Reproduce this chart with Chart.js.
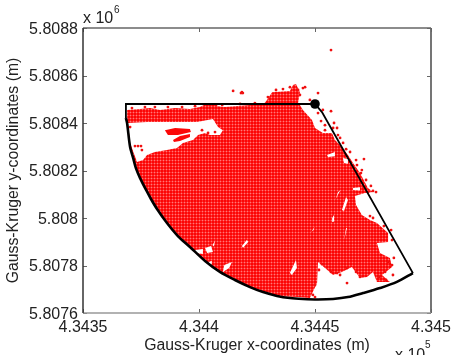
<!DOCTYPE html>
<html><head><meta charset="utf-8">
<style>html,body{margin:0;padding:0;background:#fff;overflow:hidden}canvas{display:block}</style>
<script src="https://cdn.jsdelivr.net/npm/chart.js@4"></script>
</head><body>
<canvas id="c" width="474" height="355"></canvas>
<script>
// All coordinates are metres relative to these origins.
const xOrigin = 434000, yOrigin = 5807000;
const xTickLabels = ['4.3435','4.344','4.3445','4.345'];
const yTickLabels = ['5.8076','5.8078','5.808','5.8082','5.8084','5.8086','5.8088'];

const arcX = [368.5,369.0,370.3,371.6,372.8,374.6,377.2,379.3,381.9,386.2,390.9,396.1,402.6,409.0,415.5,422.0,427.6,433.6,439.2,444.8,451.3,457.8,464.2,470.7,478.0,485.3,492.2];
const arcY = [1421,1400,1299,1253,1210,1168,1118,1080,1038,979,924,878,819,773,739,709,688,672,663,659,657,659,667,684,705,731,768];
const edgeX = [492.2,453.0,450.0,368.5,368.5];
const edgeY = [768,1446,1480,1480,1421];

const coverageX = [369.0,374.6,378.9,383.2,389.7,396.1,400.4,403.9,406.9,408.2,411.2,415.5,422.0,427.6,429.3,431.5,439.2,440.5,441.8,443.5,442.7,443.5,444.8,448.7,450.0,453.4,457.3,458.6,460.8,464.2,466.4,469.4,472.8,475.0,471.5,467.2,467.7,470.2,473.7,476.7,481.5,481.5,476.7,478.0,482.3,483.2,478.9,482.3,476.7,475.0,472.4,469.4,465.9,461.6,457.8,454.3,451.3,450.9,447.8,442.7,433.6,427.6,422.0,415.5,409.0,402.6,396.1,390.9,386.2,381.9,379.3,377.2,374.6,372.8,371.6,370.3,369.0];
const coverageY = [1455,1459,1463,1455,1463,1459,1467,1484,1484,1471,1467,1471,1476,1476,1497,1530,1535,1560,1564,1530,1484,1476,1455,1413,1379,1358,1358,1328,1307,1265,1232,1189,1126,1109,1105,1093,1055,1013,992,979,937,899,895,853,832,794,760,731,731,773,752,747,794,773,760,789,815,726,663,667,672,688,709,739,773,819,878,924,979,1038,1080,1118,1168,1210,1253,1299,1400];

const holesX = [
  [369.4,377.6,388.8,399.1,406.0,408.2,410.3,409.0,404.7,402.6,399.6,397.4,393.1,390.5,386.2,381.0,377.6,375.9,373.3,370.3],
  [398.3,401.7,401.7,398.7],[402.6,405.2,406.0,403.5],[404.2,405.5,405.5,404.5],[410.9,414.2,413.0,410.3],
  [418.5,420.6,421.3,419.0],[405.8,408.0,407.0,406.3],[461.6,463.4,464.2,462.5],[457.4,458.2,458.2,457.4],
  [458.6,461.0,460.0,458.4],[462.5,463.8,463.4,462.5],[448.7,449.8,449.4,448.3],[439.2,441.8,442.2,440.0],
  [455.2,458.6,458.6,455.6],[466.4,469.4,469.4,466.4],[462.0,464.2,464.2,462.5]
];
const holesY = [
  [1400,1404,1404,1404,1417,1383,1370,1349,1349,1358,1349,1328,1316,1295,1286,1278,1265,1244,1236,1316],
  [865,869,848,853],[874,882,857,853],[815,820,805,800],[802,815,790,773],
  [882,907,900,875],[886,920,905,880],[1034,1088,1076,1030],[1000,1013,985,983],
  [1076,1118,1110,1070],[907,958,958,907],[945,962,950,941],[770,823,790,760],
  [1265,1278,1260,1257],[1126,1130,1116,1118],[1253,1248,1228,1232]
];
const islandsX = [[385.3,389.7,396.1,396.5,390.9,386.6],[388.8,391.8,396.1,396.1,391.8,389.2]];
const islandsY = [[1370,1379,1375,1362,1349,1349],[1328,1345,1354,1341,1324,1320]];

const strayX = [414.7,418.5,418.1,418.9,456.9,451.3,444.8,445.7,443.5,456.9,458.2,459.5,471.1,460.8,463.4,468.1,469.8,475.0,452.6,454.3,460.8,463.8,469.4,459.5,483.2,449.1,450.0,370.3,372.4,373.7,375.0,375.4,406.9,403.9,401.3,473.7,475.0,472.8,481.5,453.4,447.8,
  371.1,376.7,381.0,386.6,392.7,398.3,410.0,417.7,424.1,429.7,433.2,436.2,439.2,442.7,451.3,454.3,457.8,459.9,462.1,465.1,467.7,470.2,472.0,474.1,476.3,483.2,482.8,479.7,484.0,483.6,480.6,480.2,477.6,467.7,463.8,456.9,453.0,451.7,450.0];
const strayY = [1535,1530,1526,1526,1707,1526,1547,1551,1518,1450,1400,1379,1248,1337,1290,1223,1189,1114,1408,1391,760,726,752,768,802,676,667,1383,1303,1303,1303,1286,1362,1358,1370,1008,1000,1109,815,1455,1497,
  1463,1467,1467,1467,1467,1471,1476,1480,1484,1509,1539,1543,1551,1539,1442,1370,1379,1349,1316,1278,1244,1202,1160,1135,1109,907,949,966,832,760,739,773,752,773,789,773,806,781,718];

const sensorX = [450.0];
const sensorY = [1480];

const toPoints = (xs, ys) => xs.map((x, i) => ({x: x + xOrigin, y: ys[i] + yOrigin}));

function gridPattern() {
  const p = document.createElement('canvas');
  p.width = 3; p.height = 3;
  const g = p.getContext('2d');
  g.fillStyle = '#fb0606'; g.fillRect(0, 0, 3, 3);
  g.fillStyle = '#ff2a2a'; g.fillRect(0, 1, 3, 1); g.fillRect(1, 0, 1, 3);
  g.fillStyle = '#ff7878'; g.fillRect(1, 1, 1, 1);
  return g.createPattern(p, 'repeat');
}
const areaSet = (xs, ys, color, order) => ({
  data: toPoints(xs, ys), showLine: true, fill: 'shape', backgroundColor: color,
  borderWidth: 0, borderColor: 'rgba(0,0,0,0)', pointRadius: 0, tension: 0, order
});

const datasets = [
  areaSet(coverageX, coverageY, gridPattern(), 6),
  ...holesX.map((xs, i) => areaSet(xs, holesY[i], '#ffffff', 5)),
  ...islandsX.map((xs, i) => areaSet(xs, islandsY[i], '#fb0808', 4)),
  {data: toPoints(strayX, strayY), showLine: false, pointStyle: 'circle', pointRadius: 1.4, pointBorderWidth: 0, pointBackgroundColor: '#f01010', order: 3},
  {data: toPoints(arcX, arcY), showLine: true, fill: false, borderColor: '#000', borderWidth: 2.6, pointRadius: 0, tension: 0.3, order: 2},
  {data: toPoints(edgeX, edgeY), showLine: true, fill: false, borderColor: '#000', borderWidth: 1.8, pointRadius: 0, tension: 0, order: 2},
  {data: toPoints(sensorX, sensorY), showLine: false, pointRadius: 4.8, pointBorderWidth: 0, pointBackgroundColor: '#000', order: 1}
];

const framePlugin = {
  id: 'frame',
  afterDatasetsDraw(chart) {
    const {ctx, chartArea: a, scales: {x, y}} = chart;
    ctx.save();
    ctx.lineWidth = 1;
    ctx.strokeStyle = '#666';
    ctx.beginPath();
    x.ticks.forEach(t => { const p = Math.round(x.getPixelForValue(t.value)) + .5;
      ctx.moveTo(p, a.bottom); ctx.lineTo(p, a.bottom - 4); ctx.moveTo(p, a.top); ctx.lineTo(p, a.top + 4); });
    y.ticks.forEach(t => { const p = Math.round(y.getPixelForValue(t.value)) + .5;
      ctx.moveTo(a.left, p); ctx.lineTo(a.left + 4, p); ctx.moveTo(a.right, p); ctx.lineTo(a.right - 4, p); });
    ctx.stroke();
    const edge = (c, w, x0, y0, x1, y1) => { ctx.strokeStyle = c; ctx.lineWidth = w; ctx.beginPath(); ctx.moveTo(x0, y0); ctx.lineTo(x1, y1); ctx.stroke(); };
    edge('#666', 1.5, a.left, a.top, a.right, a.top);
    edge('#666', 1.8, a.right, a.top, a.right, a.bottom);
    edge('#999', 1.5, a.left, a.bottom, a.right, a.bottom);
    edge('#333', 1.5, a.left, a.top, a.left, a.bottom);
    ctx.fillStyle = '#222';
    ctx.textAlign = 'left';
    ctx.textBaseline = 'alphabetic';
    ctx.font = '16px "Liberation Sans"';
    ctx.fillText('x 10', 83, 23);
    ctx.fillText('x 10', 395, 360);
    ctx.font = '10px "Liberation Sans"';
    ctx.fillText('6', 114, 13);
    ctx.fillText('5', 425, 348);
    ctx.restore();
  }
};

const titleFont = {family: '"Liberation Sans"', size: 15.8};
const tickFont = {family: '"Liberation Sans"', size: 16};

new Chart(document.getElementById('c'), {
  type: 'scatter',
  data: {datasets},
  plugins: [framePlugin],
  options: {
    responsive: false, animation: false, events: [],
    layout: {padding: {top: 28, right: 43, left: 0, bottom: 0}},
    plugins: {legend: {display: false}, tooltip: {enabled: false}},
    scales: {
      x: {
        type: 'linear', min: 434350, max: 434500,
        border: {display: false},
        grid: {display: false},
        afterFit(s) { s.height = 42; },
        ticks: {stepSize: 50, autoSkip: false, maxRotation: 0, padding: -3, color: '#222', font: tickFont,
          callback: (v, i) => xTickLabels[i]},
        title: {display: true, text: 'Gauss-Kruger x-coordinates (m)', color: '#222', font: titleFont, padding: {top: 1.4, bottom: 0}}
      },
      y: {
        type: 'linear', min: 5807600, max: 5808800,
        border: {display: false},
        grid: {display: false},
        afterFit(s) { s.width = 83; },
        ticks: {stepSize: 200, autoSkip: false, padding: -3, labelOffset: 1.5, color: '#222', font: tickFont,
          callback: (v, i) => yTickLabels[i]},
        title: {display: true, text: 'Gauss-Kruger y-coordinates (m)', color: '#222', font: titleFont, padding: {top: 4.5, bottom: 0}}
      }
    }
  }
});
</script>
</body></html>
